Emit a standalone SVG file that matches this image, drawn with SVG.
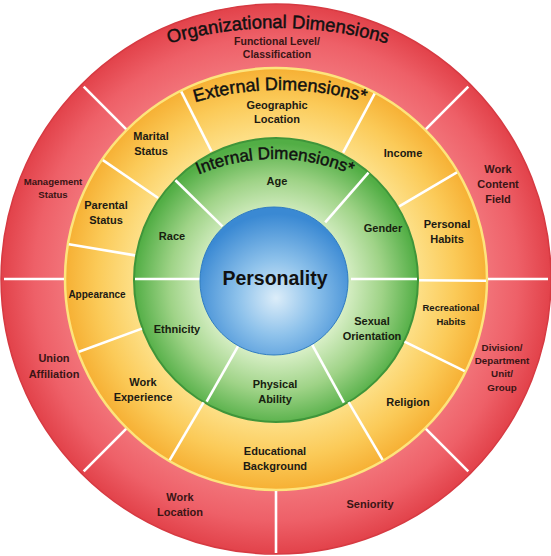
<svg xmlns="http://www.w3.org/2000/svg" width="551" height="556" viewBox="0 0 551 556">
<defs>
<radialGradient id="gRed" gradientUnits="userSpaceOnUse" cx="276" cy="279" r="275">
<stop offset="0.76" stop-color="#f2747a"/>
<stop offset="0.88" stop-color="#ee6068"/>
<stop offset="1" stop-color="#e2424a"/>
</radialGradient>
<radialGradient id="gYel" gradientUnits="userSpaceOnUse" cx="276" cy="279" r="211">
<stop offset="0.67" stop-color="#fde088"/>
<stop offset="0.85" stop-color="#fbca58"/>
<stop offset="1" stop-color="#f6b034"/>
</radialGradient>
<radialGradient id="gGrn" gradientUnits="userSpaceOnUse" cx="276" cy="285" r="142">
<stop offset="0.5" stop-color="#d6eec4"/>
<stop offset="0.75" stop-color="#9fd387"/>
<stop offset="1" stop-color="#52ae45"/>
</radialGradient>
<radialGradient id="gBlu" gradientUnits="userSpaceOnUse" cx="276" cy="298" r="84">
<stop offset="0" stop-color="#dcedf9"/>
<stop offset="0.45" stop-color="#8ec2eb"/>
<stop offset="1" stop-color="#3a89d3"/>
</radialGradient>
<path id="arcOrg" d="M -112 418 A 390 390 0 0 1 668 418"/>
<path id="arcExt" d="M -20 390 A 300 300 0 0 1 580 390"/>
<path id="arcInt" d="M 79 355 A 196 196 0 0 1 471 355"/>
</defs>
<style>
text{font-family:"Liberation Sans",Arial,sans-serif;font-weight:bold;text-anchor:middle}
.r{fill:#3a1515;font-size:11px}
.y{fill:#1c1a14;font-size:11px}
.g{fill:#17200f;font-size:11px}
.t{font-weight:normal;fill:#111;stroke:#111;stroke-width:0.45}
.div{stroke:#ffffff;stroke-width:2.6;stroke-linecap:butt}
</style>

<g id="ring-organizational">
<circle cx="276" cy="279" r="275" fill="url(#gRed)" stroke="#d63a42" stroke-width="1.5"/>
</g>
<g id="ring-external">
<circle cx="276" cy="279" r="211" fill="url(#gYel)" stroke="#fde47c" stroke-width="2.5"/>
</g>
<g id="ring-internal">
<circle cx="276" cy="280" r="142" fill="url(#gGrn)" stroke="#3f953a" stroke-width="2"/>
</g>

<g id="dividers">
<line class="div" x1="64" y1="279" x2="4" y2="279"/>
<line class="div" x1="126.1" y1="129.1" x2="83.7" y2="86.7"/>
<line class="div" x1="425.9" y1="129.1" x2="468.3" y2="86.7"/>
<line class="div" x1="488" y1="279" x2="548" y2="279"/>
<line class="div" x1="425.9" y1="428.9" x2="468.3" y2="471.3"/>
<line class="div" x1="276" y1="491" x2="276" y2="553"/>
<line class="div" x1="126.1" y1="428.9" x2="83.7" y2="471.3"/>

<line class="div" x1="211.5" y1="151.4" x2="181.3" y2="91.6"/>
<line class="div" x1="343.1" y1="152.7" x2="374.6" y2="93.6"/>
<line class="div" x1="399.2" y1="206.4" x2="456.9" y2="172.4"/>
<line class="div" x1="419" y1="280.2" x2="486" y2="280.8"/>
<line class="div" x1="404.5" y1="341.7" x2="464.7" y2="371.1"/>
<line class="div" x1="348.6" y1="402.2" x2="382.6" y2="459.9"/>
<line class="div" x1="203.6" y1="402.3" x2="169.7" y2="460.1"/>
<line class="div" x1="141.9" y1="328.6" x2="79" y2="351.8"/>
<line class="div" x1="135" y1="255.4" x2="68.9" y2="244.3"/>
<line class="div" x1="158.2" y1="198" x2="102.9" y2="160.1"/>

<line class="div" x1="222.5" y1="226.4" x2="175.4" y2="180.2"/>
<line class="div" x1="325.2" y1="222.4" x2="368.5" y2="172.6"/>
<line class="div" x1="351" y1="279" x2="417" y2="279"/>
<line class="div" x1="312.1" y1="344.7" x2="343.9" y2="402.6"/>
<line class="div" x1="239.1" y1="344.3" x2="206.6" y2="401.7"/>
<line class="div" x1="201" y1="279" x2="135" y2="279"/>
</g>

<g id="core-personality">
<circle cx="274" cy="281" r="74" fill="url(#gBlu)" stroke="#2f7cc2" stroke-width="1"/>
<text x="275" y="285" style="font-size:19.5px;fill:#111">Personality</text>
</g>

<g id="title-organizational"><text class="t" style="font-size:18.5px"><textPath href="#arcOrg" startOffset="50%">Organizational Dimensions</textPath></text></g>
<g id="title-external"><text class="t" style="font-size:18px"><textPath href="#arcExt" startOffset="50%">External Dimensions*</textPath></text></g>
<g id="title-internal"><text class="t" style="font-size:17px"><textPath href="#arcInt" startOffset="50%">Internal Dimensions*</textPath></text></g>

<g id="org-functional-level"><text class="r" style="font-size:10.5px" x="277" y="45">Functional Level/</text><text class="r" style="font-size:10.5px" x="277" y="58">Classification</text></g>
<g id="org-management-status"><text class="r" style="font-size:9.6px" x="53" y="185">Management</text><text class="r" style="font-size:9.6px" x="53" y="198">Status</text></g>
<g id="org-work-content-field"><text class="r" x="498" y="173">Work</text><text class="r" x="498" y="188">Content</text><text class="r" x="498" y="203">Field</text></g>
<g id="org-division"><text class="r" style="font-size:9.8px" x="502" y="351">Division/</text><text class="r" style="font-size:9.8px" x="502" y="364">Department</text><text class="r" style="font-size:9.8px" x="502" y="377">Unit/</text><text class="r" style="font-size:9.8px" x="502" y="391">Group</text></g>
<g id="org-seniority"><text class="r" x="370" y="508">Seniority</text></g>
<g id="org-work-location"><text class="r" x="180" y="501">Work</text><text class="r" x="180" y="516">Location</text></g>
<g id="org-union-affiliation"><text class="r" x="54" y="362">Union</text><text class="r" x="54" y="378">Affiliation</text></g>

<g id="ext-geographic-location"><text class="y" x="277" y="109">Geographic</text><text class="y" x="277" y="123">Location</text></g>
<g id="ext-income"><text class="y" x="403" y="157">Income</text></g>
<g id="ext-personal-habits"><text class="y" x="447" y="228">Personal</text><text class="y" x="447" y="243">Habits</text></g>
<g id="ext-recreational-habits"><text class="y" style="font-size:9.5px" x="451" y="311">Recreational</text><text class="y" style="font-size:9.5px" x="451" y="325">Habits</text></g>
<g id="ext-religion"><text class="y" x="408" y="406">Religion</text></g>
<g id="ext-educational-background"><text class="y" x="275" y="455">Educational</text><text class="y" x="275" y="470">Background</text></g>
<g id="ext-work-experience"><text class="y" x="143" y="386">Work</text><text class="y" x="143" y="401">Experience</text></g>
<g id="ext-appearance"><text class="y" style="font-size:10px" x="97" y="298">Appearance</text></g>
<g id="ext-parental-status"><text class="y" x="106" y="209">Parental</text><text class="y" x="106" y="224">Status</text></g>
<g id="ext-marital-status"><text class="y" x="151" y="140">Marital</text><text class="y" x="151" y="155">Status</text></g>

<g id="int-age"><text class="g" x="277" y="185">Age</text></g>
<g id="int-gender"><text class="g" x="383" y="232">Gender</text></g>
<g id="int-sexual-orientation"><text class="g" x="372" y="325">Sexual</text><text class="g" x="372" y="340">Orientation</text></g>
<g id="int-physical-ability"><text class="g" x="275" y="388">Physical</text><text class="g" x="275" y="403">Ability</text></g>
<g id="int-ethnicity"><text class="g" x="177" y="333">Ethnicity</text></g>
<g id="int-race"><text class="g" x="172" y="240">Race</text></g>
</svg>
